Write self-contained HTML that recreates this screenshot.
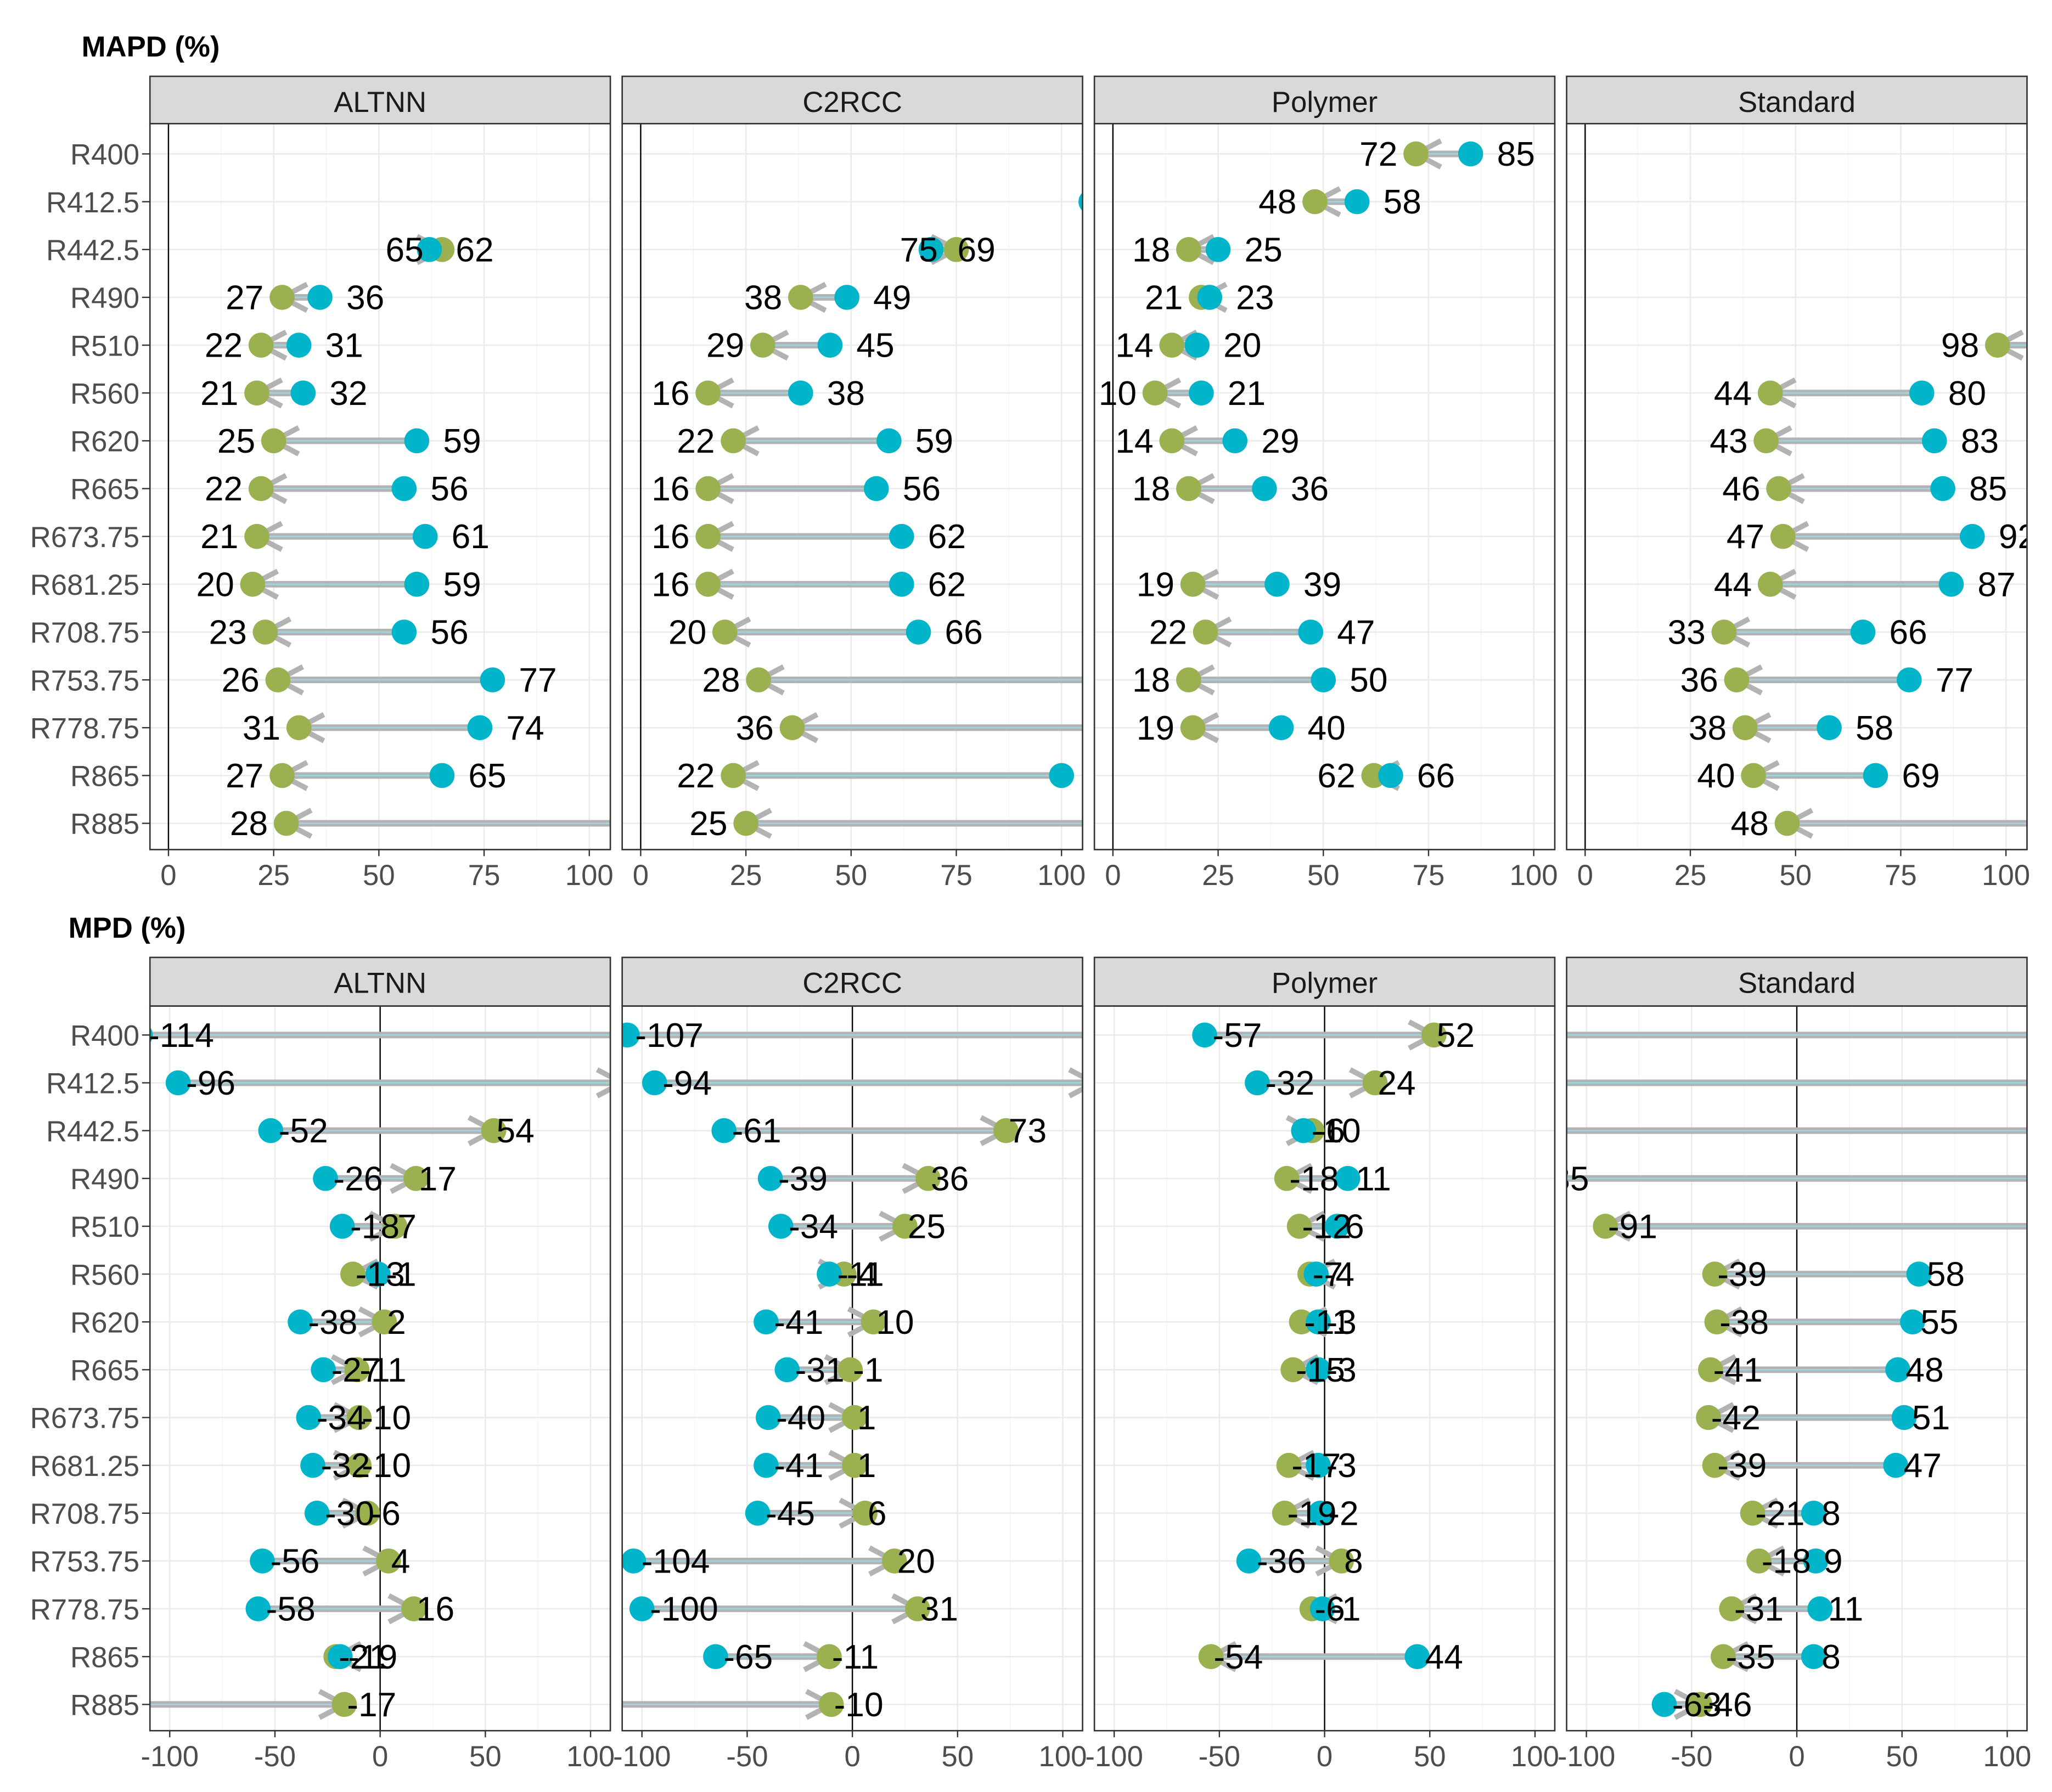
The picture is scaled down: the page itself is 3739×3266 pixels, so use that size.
<!DOCTYPE html>
<html><head><meta charset="utf-8"><style>
html,body{margin:0;padding:0;background:#fff}
svg{display:block}
text{font-family:"Liberation Sans",Arial,sans-serif}
</style></head><body>
<svg id="chart" xmlns="http://www.w3.org/2000/svg" width="3739" height="3266" viewBox="0 0 1560 1362.6"></svg>
<script>
const rows = ["R400","R412.5","R442.5","R490","R510","R560","R620","R665","R673.75","R681.25","R708.75","R753.75","R778.75","R865","R885"];
const models = ["ALTNN","C2RCC","Polymer","Standard"];
const mapdOlive = {
  ALTNN:[300,300,65,27,22,21,25,22,21,20,23,26,31,27,28],
  C2RCC:[300,300,75,38,29,16,22,16,16,16,20,28,36,22,25],
  Polymer:[72,48,18,21,14,10,14,18,null,19,22,18,19,62,null],
  Standard:[300,300,300,300,98,44,43,46,47,44,33,36,38,40,48]
};
const mapdCyan = {
  ALTNN:[350,350,62,36,31,32,59,56,61,59,56,77,74,65,300],
  C2RCC:[350,107,69,49,45,38,59,56,62,62,66,300,300,100,300],
  Polymer:[85,58,25,23,20,21,29,36,null,39,47,50,40,66,null],
  Standard:[350,350,350,350,300,80,83,85,92,87,66,77,58,69,300]
};
const mpdOlive = {
  ALTNN:[300,115,54,17,7,-13,2,-11,-10,-10,-6,4,16,-21,-17],
  C2RCC:[300,115,73,36,25,-4,10,-1,1,1,6,20,31,-11,-10],
  Polymer:[52,24,-6,-18,-12,-7,-11,-15,null,-17,-19,8,-6,-54,null],
  Standard:[300,300,300,300,-91,-39,-38,-41,-42,-39,-21,-18,-31,-35,-46]
};
const mpdCyan = {
  ALTNN:[-114,-96,-52,-26,-18,-1,-38,-27,-34,-32,-30,-56,-58,-19,-300],
  C2RCC:[-107,-94,-61,-39,-34,-11,-41,-31,-40,-41,-45,-104,-100,-65,-300],
  Polymer:[-57,-32,-10,11,6,-4,-3,-3,null,-3,-2,-36,-1,44,null],
  Standard:[-300,-300,-300,-135,300,58,55,48,51,47,8,9,11,8,-63]
};
const mapdTicks=[0,25,50,75,100];
const mpdTicks=[-100,-50,0,50,100];

const NS="http://www.w3.org/2000/svg";
const svg=document.getElementById('chart');
function mk(tag,attrs,parent){const e=document.createElementNS(NS,tag);for(const k in attrs)e.setAttribute(k,attrs[k]);(parent||svg).appendChild(e);return e;}
const panelX=[114,473,832,1191], PW=350;
const OLIVE="#9bb04f", CYAN="#00b4c9";

function section(cfg){
  const t=mk('text',{x:cfg.titleX,y:cfg.titleY,'font-size':22,'font-weight':'bold',fill:'#000'});
  t.textContent=cfg.title;
  
  
  const yAt=i=>cfg.y0+i*36.36;
  rows.forEach((r,i)=>{
    const l=mk('text',{x:106,y:yAt(i)+8,'font-size':22,fill:'#4d4d4d','text-anchor':'end'});
    l.textContent=r;
    
    
    mk('line',{x1:108,x2:114,y1:yAt(i),y2:yAt(i),stroke:'#333','stroke-width':1});
  });
  models.forEach((m,pi)=>{
    const px=panelX[pi];
    const sx=v=>px+(v-cfg.dmin)/(cfg.dmax-cfg.dmin)*PW;
    const g=mk('g',{});
    
    
    const s=mk('rect',{x:px,y:cfg.stripY,width:PW,height:cfg.top-cfg.stripY,fill:'#d9d9d9',stroke:'#333','stroke-width':1.1},g);
    
    
    const st=mk('text',{x:px+PW/2,y:cfg.stripY+27,'font-size':22,fill:'#1a1a1a','text-anchor':'middle'},g);
    st.textContent=m;
    mk('rect',{x:px,y:cfg.top,width:PW,height:cfg.bot-cfg.top,fill:'#fff'},g);
    const cid='clip-'+cfg.key+pi;
    const cp=mk('clipPath',{id:cid},g);
    mk('rect',{x:px,y:cfg.top,width:PW,height:cfg.bot-cfg.top},cp);
    const inner=mk('g',{'clip-path':'url(#'+cid+')'},g);
    for(let k=0;k<cfg.ticks.length;k++){
      const v=cfg.ticks[k];
      mk('line',{x1:sx(v),x2:sx(v),y1:cfg.top,y2:cfg.bot,stroke:'#ebebeb','stroke-width':1.1},inner);
      if(k<cfg.ticks.length-1){const mv=(v+cfg.ticks[k+1])/2;
        mk('line',{x1:sx(mv),x2:sx(mv),y1:cfg.top,y2:cfg.bot,stroke:'#f4f4f4','stroke-width':0.6},inner);}
    }
    rows.forEach((r,i)=>mk('line',{x1:px,x2:px+PW,y1:yAt(i),y2:yAt(i),stroke:'#ebebeb','stroke-width':1.1},inner));
    mk('line',{x1:sx(0),x2:sx(0),y1:cfg.top,y2:cfg.bot,stroke:'#000','stroke-width':1},inner);
    rows.forEach((r,i)=>{
      const o=cfg.olive[m][i], c=cfg.cyan[m][i];
      if(o==null||c==null) return;
      const y=yAt(i), xo=sx(o), xc=sx(c);
      const seg=mk('line',{x1:xc,x2:xo,y1:y,y2:y,stroke:'#b3b3b3','stroke-width':5},inner);
      
      
      mk('line',{x1:xc,x2:xo,y1:y,y2:y,stroke:'#9fd3df','stroke-width':1.2},inner);
      const dir=xo<xc?1:-1;
      const ah=mk('path',{d:`M${xo+dir*19},${y-10} L${xo},${y} L${xo+dir*19},${y+10}`,fill:'none',stroke:'#b3b3b3','stroke-width':4},inner);
      
      
      const po=mk('circle',{cx:xo,cy:y,r:9.5,fill:OLIVE},inner);
      
      
      const pc=mk('circle',{cx:xc,cy:y,r:9.5,fill:CYAN},inner);
      
      
      let lo,lc;
      if(cfg.key==='mapd'){
        lo=mk('text',{x:xo-14,y:y+9,'font-size':26,fill:'#000','text-anchor':'end'},inner);
        lc=mk('text',{x:xc+20,y:y+9,'font-size':26,fill:'#000'},inner);
      } else {
        lo=mk('text',{x:xo+2,y:y+9,'font-size':26,fill:'#000'},inner);
        lc=mk('text',{x:xc+6,y:y+9,'font-size':26,fill:'#000'},inner);
      }
      lo.textContent=o; lc.textContent=c;
      
      
      
      
    });
    mk('rect',{x:px,y:cfg.top,width:PW,height:cfg.bot-cfg.top,fill:'none',stroke:'#333','stroke-width':1.1},g);
    cfg.ticks.forEach(v=>{
      mk('line',{x1:sx(v),x2:sx(v),y1:cfg.bot,y2:cfg.bot+5,stroke:'#333','stroke-width':1},g);
      const tl=mk('text',{x:sx(v),y:cfg.bot+27,'font-size':22,fill:'#4d4d4d','text-anchor':'middle'},g);
      tl.textContent=v;
      
      
    });
  });
}
section({key:'mapd',title:'MAPD (%)',titleX:62,titleY:43,stripY:58,top:94,bot:646,y0:117,dmin:-4.4,dmax:105,ticks:mapdTicks,olive:mapdOlive,cyan:mapdCyan});
section({key:'mpd',title:'MPD (%)',titleX:52,titleY:713,stripY:728,top:765,bot:1316,y0:787,dmin:-109.4,dmax:109.4,ticks:mpdTicks,olive:mpdOlive,cyan:mpdCyan});
</script>
</body></html>
